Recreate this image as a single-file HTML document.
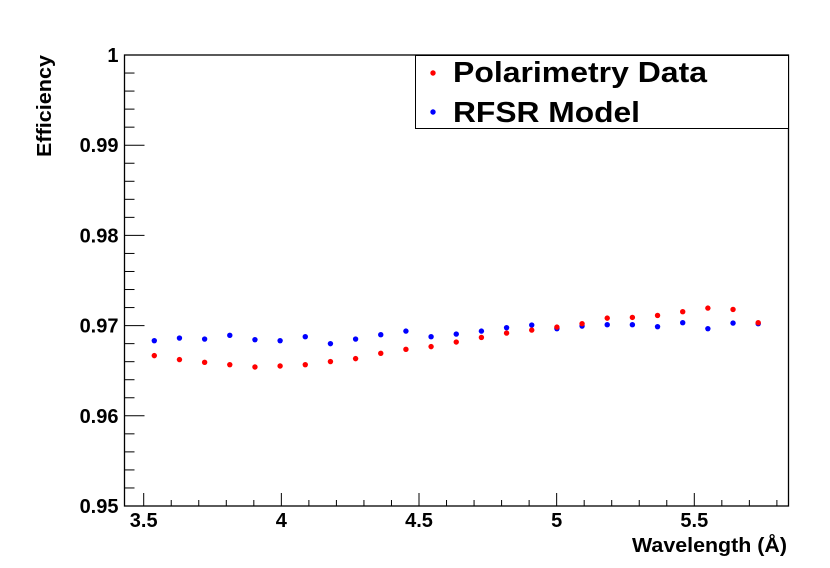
<!DOCTYPE html>
<html><head><meta charset="utf-8"><style>
body{margin:0;background:#fff}
svg text{font-family:"Liberation Sans",Arial,sans-serif;font-weight:bold}
</style></head><body>
<svg id="chart" width="830" height="563" xmlns="http://www.w3.org/2000/svg">
<rect width="830" height="563" fill="#fff"/>
<g id="axes"></g>
<g id="marks"></g>
<g>
<rect x="415.5" y="55.5" width="373" height="73" fill="#fff" stroke="#000" stroke-width="1"/>
<circle cx="433" cy="73" r="2.7" fill="#ff0000"/>
<text x="453" y="82" font-size="29" textLength="254" lengthAdjust="spacingAndGlyphs">Polarimetry Data</text>
<circle cx="433" cy="112" r="2.7" fill="#0000ff"/>
<text x="453" y="122" font-size="29" textLength="187" lengthAdjust="spacingAndGlyphs">RFSR Model</text>
</g>
<text transform="translate(51,55) rotate(-90)" text-anchor="end" font-size="20" textLength="102" lengthAdjust="spacingAndGlyphs">Efficiency</text>
<text x="787" y="552" text-anchor="end" font-size="20" textLength="155" lengthAdjust="spacingAndGlyphs">Wavelength (Å)</text>
</svg>
<script>
const xStart = 3.5385;
const xStep = 0.0914;
const polarimetry = [0.96667,0.96623,0.96593,0.96567,0.96541,0.96552,0.96567,0.96601,0.96634,0.96693,0.96737,0.96767,0.96818,0.96869,0.96917,0.96950,0.96983,0.97021,0.97083,0.97091,0.97113,0.97154,0.97194,0.97179,0.97032];
const rfsr = [0.96833,0.96862,0.96851,0.96892,0.96844,0.96833,0.96877,0.96800,0.96851,0.96899,0.96939,0.96877,0.96906,0.96939,0.96977,0.97006,0.96966,0.96995,0.97010,0.97010,0.96988,0.97032,0.96966,0.97028,0.97021];
const xTicks = ["3.5","4","4.5","5","5.5"];
const yTicks = ["0.95","0.96","0.97","0.98","0.99","1"];

const NS="http://www.w3.org/2000/svg";
const L=124.5,R=788.5,T=55,B=506;
function xs(v){return 143.7+(v-3.5)*275.3;}
function ys(v){return B-(v-0.95)/0.05*(B-T);}
const axes=document.getElementById('axes');
function line(x1,y1,x2,y2,w){const l=document.createElementNS(NS,'line');l.setAttribute('x1',x1);l.setAttribute('y1',y1);l.setAttribute('x2',x2);l.setAttribute('y2',y2);l.setAttribute('stroke','#000');l.setAttribute('stroke-width',w||1);axes.appendChild(l);return l;}
const fr=document.createElementNS(NS,'rect');
fr.setAttribute('x',L);fr.setAttribute('y',T);fr.setAttribute('width',R-L);fr.setAttribute('height',B-T);
fr.setAttribute('fill','none');fr.setAttribute('stroke','#000');fr.setAttribute('stroke-width','1.3');


axes.appendChild(fr);
for(let v=3.4;v<=5.85;v+=0.1){const x=xs(v);if(x<L||x>R)continue;const maj=Math.abs(v*2-Math.round(v*2))<1e-6;line(x,B,x,B-(maj?13:6));}
for(let v=0.95;v<=1.0001;v+=0.002){const y=ys(v);const maj=Math.abs(v*100-Math.round(v*100))<1e-6;line(L,y,L+(maj?20:10),y);}
xTicks.forEach(t=>{const tx=document.createElementNS(NS,'text');tx.setAttribute('x',xs(parseFloat(t)));tx.setAttribute('y',B+21);tx.setAttribute('text-anchor','middle');tx.setAttribute('font-size','20');tx.textContent=t;


axes.appendChild(tx);});
yTicks.forEach(t=>{const tx=document.createElementNS(NS,'text');tx.setAttribute('x',L-6);tx.setAttribute('y',ys(parseFloat(t))+7);tx.setAttribute('text-anchor','end');tx.setAttribute('font-size','20');tx.textContent=t;


axes.appendChild(tx);});
const marks=document.getElementById('marks');
function draw(arr,color,name){arr.forEach((v,i)=>{const c=document.createElementNS(NS,'circle');c.setAttribute('cx',xs(xStart+i*xStep));c.setAttribute('cy',ys(v));c.setAttribute('r','2.7');c.setAttribute('fill',color);


marks.appendChild(c);});}
draw(rfsr,'#0000ff','rfsr-point');
draw(polarimetry,'#ff0000','polarimetry-point');
</script>
</body></html>
